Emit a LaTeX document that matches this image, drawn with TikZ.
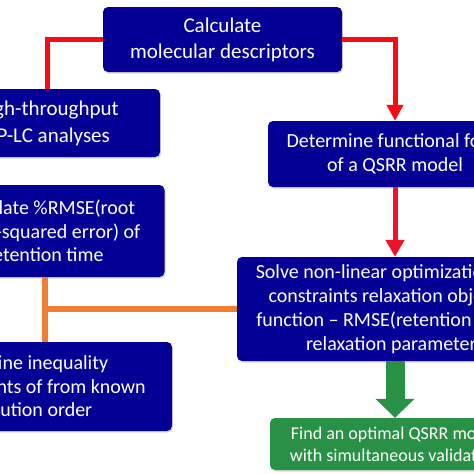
\documentclass[tikz,border=0pt]{standalone}
\usepackage{fontspec}
\setmainfont{Carlito}
\usetikzlibrary{arrows.meta,shadows}
\definecolor{boxblue}{RGB}{4,0,150}
\definecolor{boxgreen}{RGB}{40,145,70}
\definecolor{linered}{RGB}{250,10,20}
\definecolor{linered2}{RGB}{240,16,42}
\definecolor{lineorange}{RGB}{240,125,50}
\begin{document}
\begin{tikzpicture}[x=1pt,y=-1pt,
  box/.style={fill=boxblue, rounded corners=5pt, text=white, align=center, inner sep=0pt,
    drop shadow={shadow xshift=1pt,shadow yshift=-1.5pt,opacity=0.3}},
  gbox/.style={box, fill=boxgreen},
  redline/.style={draw=linered, line width=5pt},
  orangeline/.style={draw=lineorange, line width=6pt},
  ]
\useasboundingbox (0,0) rectangle (474,474);
\fill[white] (0,0) rectangle (474,474);
\begin{scope}
\clip (0,0) rectangle (474,474);
\node[box, minimum width=239pt, minimum height=65pt, font=\fontsize{21}{26}\selectfont]
  (top) at (222.5,39.5) {Calculate\\molecular descriptors};
\node[box, minimum width=225pt, minimum height=68pt, font=\fontsize{21}{27}\selectfont]
  (hts) at (47.5,123) {High-throughput\\RP-LC analyses};
\node[box, minimum width=239pt, minimum height=92pt, font=\fontsize{20}{23.5}\selectfont]
  (rmse) at (45,231) {Calculate \%RMSE(root\\mean-squared error) of\\retention time};
\node[box, minimum width=266pt, minimum height=89pt, font=\fontsize{20}{23.5}\selectfont]
  (define) at (39,386.5) {Define inequality\\constraints of from known\\elution order};
\node[box, minimum width=254pt, minimum height=66pt, font=\fontsize{20}{24}\selectfont]
  (determine) at (395,154) {Determine functional form\\of a QSRR model};
\node[box, minimum width=316pt, minimum height=104pt, font=\fontsize{20}{24}\selectfont]
  (solve) at (395,309) {Solve non-linear optimization with\\constraints relaxation objective\\function -- RMSE(retention time) +\\relaxation parameters};
\node[gbox, minimum width=250pt, minimum height=52pt, font=\fontsize{18}{22}\selectfont]
  (final) at (395,444) {Find an optimal QSRR model\\with simultaneous validation};

\draw[redline] (top.west) -| (hts.north);
\draw[redline, -{Triangle[width=16pt,length=16pt]}] (top.east) -| (determine.north);
\draw[redline, draw=linered2, -{Triangle[width=18pt,length=17pt]}] (determine.south) -- (solve.north);
\draw[orangeline] (rmse.south) -- (rmse.south |- define.north);
\draw[orangeline] (rmse.south |- solve.west) -- (solve.west);
\draw[draw=boxgreen, line width=19pt, -{Triangle[width=38pt,length=19pt]}] (solve.south) -- (final.north);
\end{scope}
\end{tikzpicture}
\end{document}
